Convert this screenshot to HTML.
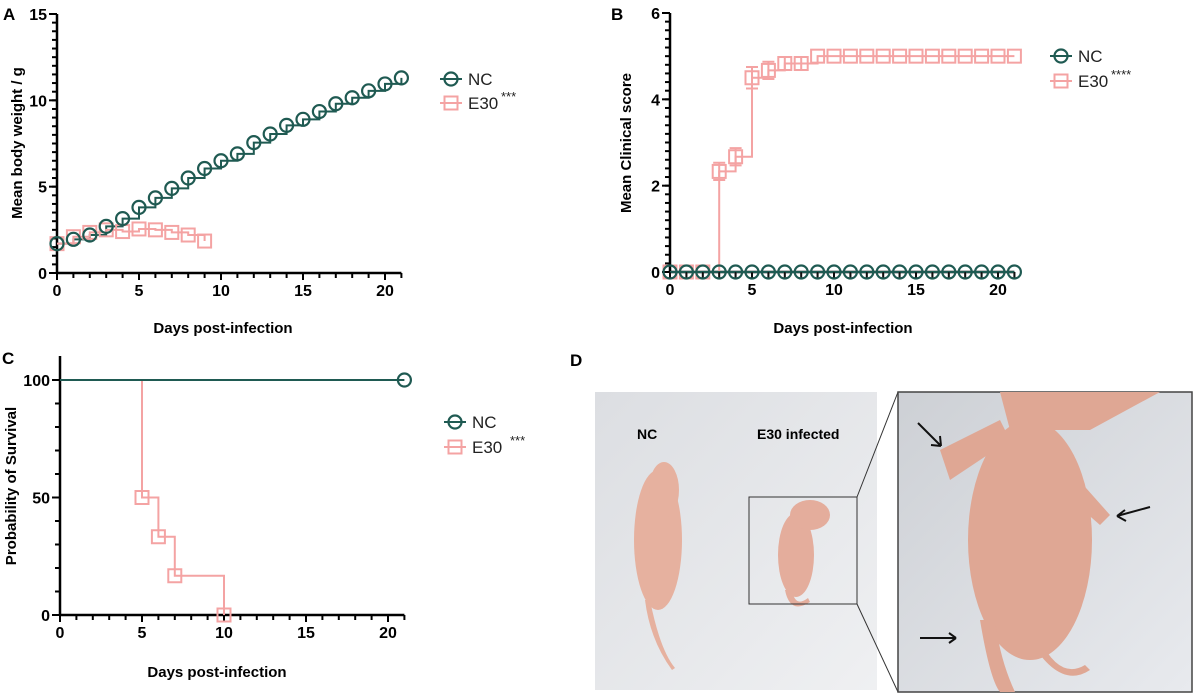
<!DOCTYPE html>
<html><head><meta charset="utf-8"><style>
body{margin:0;background:#fff;width:1200px;height:693px;overflow:hidden;font-family:"Liberation Sans",Arial,sans-serif}
svg{position:absolute;left:0;top:0}
</style></head><body>
<svg id="fig" width="1200" height="693" viewBox="0 0 1200 693">
<defs>
<linearGradient id="bg1" x1="0" y1="0" x2="1" y2="1"><stop offset="0" stop-color="#dcdee2"/><stop offset="1" stop-color="#eff0f2"/></linearGradient>
<linearGradient id="bg2" x1="0" y1="0" x2="1" y2="1"><stop offset="0" stop-color="#cdd0d5"/><stop offset="1" stop-color="#e8eaee"/></linearGradient>
</defs>
<g id="photos">
<rect x="595" y="392" width="282" height="298" fill="url(#bg1)"/>
<text x="637" y="439" font-size="14" font-weight="bold">NC</text>
<text x="757" y="439" font-size="14" font-weight="bold">E30  infected</text>
<g fill="#e6b19f">
<ellipse cx="658" cy="540" rx="24" ry="70"/>
<ellipse cx="664" cy="490" rx="15" ry="28"/>
<path d="M650 600 Q660 650 675 668 L672 670 Q650 640 645 600Z"/>
</g>
<g fill="#e4ad9c">
<ellipse cx="796" cy="555" rx="18" ry="42"/>
<ellipse cx="810" cy="515" rx="20" ry="15"/>
<path d="M785 590 Q790 615 810 602 L808 598 Q795 608 792 590Z"/>
</g>
<rect x="749" y="497" width="108" height="107" fill="none" stroke="#333" stroke-width="1"/>
<line x1="857" y1="497" x2="898" y2="392" stroke="#333" stroke-width="1"/>
<line x1="857" y1="604" x2="898" y2="692" stroke="#333" stroke-width="1"/>
<rect x="898" y="392" width="294" height="300" fill="url(#bg2)" stroke="#444" stroke-width="1.5"/>
<g fill="#dfa794">
<ellipse cx="1030" cy="540" rx="62" ry="120"/>
<path d="M940 450 L1000 420 L1010 440 L950 480Z"/>
<path d="M1070 470 L1110 515 L1100 525 L1060 490Z"/>
<path d="M980 620 Q990 680 1000 692 L1015 692 Q1000 660 995 620Z"/>
<path d="M1030 640 Q1060 690 1090 670 L1085 665 Q1060 680 1040 640Z"/>
<path d="M1000 392 L1160 392 L1090 430 L1010 430Z"/>
</g>
<g stroke="#111" stroke-width="2" fill="none">
<path d="M918 423 L941 446 M941 446 L931 445 M941 446 L940 436"/>
<path d="M1150 507 L1117 516 M1117 516 L1125 510 M1117 516 L1126 521"/>
<path d="M920 638 L956 638 M956 638 L949 633 M956 638 L949 643"/>
</g>
</g>
<text x="3" y="20" font-size="17" font-weight="bold">A</text>
<text x="611" y="20" font-size="17" font-weight="bold">B</text>
<text x="2" y="364" font-size="17" font-weight="bold">C</text>
<text x="570" y="366" font-size="17" font-weight="bold">D</text>
</svg>
<script>
const days = [0,1,2,3,4,5,6,7,8,9,10,11,12,13,14,15,16,17,18,19,20,21];
const weightNC = [1.7,1.95,2.2,2.7,3.15,3.8,4.35,4.9,5.5,6.05,6.5,6.9,7.55,8.05,8.55,8.9,9.35,9.8,10.15,10.55,10.95,11.3];
const weightE30 = [1.7,2.1,2.35,2.5,2.4,2.55,2.5,2.35,2.2,1.85];
const scoreNC = [0,0,0,0,0,0,0,0,0,0,0,0,0,0,0,0,0,0,0,0,0,0];
const scoreE30 = [0,0,0,2.33,2.67,4.5,4.67,4.83,4.83,5,5,5,5,5,5,5,5,5,5,5,5,5];
const scoreE30Err = [0,0,0,0.2,0.2,0.25,0.2,0.15,0.15,0,0,0,0,0,0,0,0,0,0,0,0,0];
const survDaysNC = [0,21];
const survNC = [100,100];
const survDaysE30 = [0,5,6,7,10];
const survE30 = [100,50,33.3,16.7,0];
const xTicks = [0,5,10,15,20];
const yTicksA = [0,5,10,15];
const yTicksB = [0,2,4,6];
const yTicksC = [0,50,100];

const NS='http://www.w3.org/2000/svg';
const svg=document.getElementById('fig');
const TEAL='#1f5a52', PINK='#f4a3a3';
function mk(tag,attrs,parent){const e=document.createElementNS(NS,tag);for(const k in attrs)e.setAttribute(k,attrs[k]);(parent||svg).appendChild(e);return e;}

function makeAxes(cfg){
  const g=mk('g',{});
  
  
  const X=v=>cfg.x0+(v-0)*cfg.dx;
  const Y=v=>cfg.y0-(v-cfg.ymin)/(cfg.ymax-cfg.ymin)*(cfg.y0-cfg.ytop);
  const ax=mk('line',{x1:cfg.x0,y1:cfg.y0,x2:X(21),y2:cfg.y0,stroke:'#000','stroke-width':2.5},g);
  
  
  const ay=mk('line',{x1:cfg.x0,y1:cfg.y0,x2:cfg.x0,y2:cfg.axTop||cfg.ytop,stroke:'#000','stroke-width':2.5},g);
  
  
  for(let d=0;d<=21;d++){const big=d%5===0;mk('line',{x1:X(d),x2:X(d),y1:cfg.y0,y2:cfg.y0+(big?7:5),stroke:'#000','stroke-width':2},g);}
  xTicks.forEach(t=>{const tx=mk('text',{x:X(t),y:cfg.y0+23,'font-size':16,'font-weight':'bold','text-anchor':'middle'},g);tx.textContent=t;
    
    });
  for(let v=cfg.ymin;v<=cfg.ymax+1e-9;v+=cfg.minor){mk('line',{x1:cfg.x0,x2:cfg.x0-5,y1:Y(v),y2:Y(v),stroke:'#000','stroke-width':2},g);}
  cfg.yt.forEach(t=>{mk('line',{x1:cfg.x0,x2:cfg.x0-8,y1:Y(t),y2:Y(t),stroke:'#000','stroke-width':2},g);
    const ty=mk('text',{x:cfg.x0-10,y:Y(t)+6,'font-size':16,'font-weight':'bold','text-anchor':'end'},g);ty.textContent=t;
    
    });
  const xt=mk('text',{x:cfg.xtx,y:cfg.xty,'font-size':15,'font-weight':'bold','text-anchor':'middle'},g);xt.textContent='Days post-infection';
  
  
  const yt=mk('text',{x:0,y:0,'font-size':15,'font-weight':'bold','text-anchor':'middle',transform:`translate(${cfg.ytx},${cfg.yty}) rotate(-90)`},g);yt.textContent=cfg.ytitle;
  
  
  return {g,X,Y};
}
function circ(g,x,y,bar){const c=mk('circle',{cx:x,cy:y,r:6.5,fill:'none',stroke:TEAL,'stroke-width':2.2},g);
  
  
  if(bar)mk('line',{x1:x-6,x2:x+6,y1:y,y2:y,stroke:TEAL,'stroke-width':2},g);}
function sq(g,x,y,bar){const r=mk('rect',{x:x-6.5,y:y-6.5,width:13,height:13,fill:'none',stroke:PINK,'stroke-width':2},g);
  
  
  if(bar)mk('line',{x1:x-6,x2:x+6,y1:y,y2:y,stroke:PINK,'stroke-width':2},g);}
function stepPath(xs,ys,X,Y){let d=`M${X(xs[0])},${Y(ys[0])}`;for(let i=1;i<xs.length;i++){d+=`H${X(xs[i])}V${Y(ys[i])}`;}return d;}
function legend(g,x,y1,y2,star){
  const l=mk('g',{},g);
  
  
  mk('line',{x1:x-11,x2:x+11,y1:y1,y2:y1,stroke:TEAL,'stroke-width':2},l);circ(l,x,y1,true);
  let t=mk('text',{x:x+17,y:y1+6,'font-size':17,fill:'#222'},l);t.textContent='NC';
  mk('line',{x1:x-11,x2:x+11,y1:y2,y2:y2,stroke:PINK,'stroke-width':2},l);sq(l,x,y2,true);
  t=mk('text',{x:x+17,y:y2+6,'font-size':17,fill:'#222'},l);t.textContent='E30';
  const s=mk('text',{x:x+17+33+(star.gap||0),y:y2-2,'font-size':13,fill:'#222'},l);s.textContent=star.s;
}

// Panel A
(function(){
  const A=makeAxes({name:'chart-a-body-weight',x0:57,y0:273,dx:16.4,ymin:0,ymax:15,ytop:14,minor:0.5,yt:yTicksA,xtx:223,xty:333,ytx:22,yty:143,ytitle:'Mean body weight / g'});
  const p1=mk('path',{d:stepPath(days,weightNC,A.X,A.Y),fill:'none',stroke:TEAL,'stroke-width':2},A.g);
  
  
  const p2=mk('path',{d:stepPath(days.slice(0,weightE30.length),weightE30,A.X,A.Y),fill:'none',stroke:PINK,'stroke-width':2},A.g);
  
  
  weightE30.forEach((v,i)=>sq(A.g,A.X(days[i]),A.Y(v)));
  weightNC.forEach((v,i)=>circ(A.g,A.X(days[i]),A.Y(v)));
  legend(A.g,451,79,103,{s:'***'});
})();
// Panel B
(function(){
  const B=makeAxes({name:'chart-b-clinical-score',x0:670,y0:272,dx:16.4,ymin:0,ymax:6,ytop:13,minor:0.2,yt:yTicksB,xtx:843,xty:333,ytx:631,yty:143,ytitle:'Mean Clinical score'});
  const p2=mk('path',{d:stepPath(days,scoreE30,B.X,B.Y),fill:'none',stroke:PINK,'stroke-width':2},B.g);
  
  
  scoreE30.forEach((v,i)=>{const e=scoreE30Err[i];if(e>0){const x=B.X(days[i]);
    mk('path',{d:`M${x},${B.Y(v+e)}V${B.Y(v-e)}M${x-6},${B.Y(v+e)}h12M${x-6},${B.Y(v-e)}h12`,stroke:PINK,'stroke-width':2,fill:'none'},B.g);}
    sq(B.g,B.X(days[i]),B.Y(v));});
  const p1=mk('path',{d:stepPath(days,scoreNC,B.X,B.Y),fill:'none',stroke:TEAL,'stroke-width':2},B.g);
  
  
  scoreNC.forEach((v,i)=>{const x=B.X(days[i]);mk('path',{d:`M${x},${B.Y(v)}v6M${x-3},${B.Y(v)+6}h6`,stroke:'#111','stroke-width':1.5},B.g);circ(B.g,x,B.Y(v));});
  legend(B.g,1061,56,81,{s:'****'});
})();
// Panel C
(function(){
  const C=makeAxes({name:'chart-c-survival',x0:60,y0:615,dx:16.4,ymin:0,ymax:100,ytop:380,axTop:356,minor:10,yt:yTicksC,xtx:217,xty:677,ytx:16,yty:486,ytitle:'Probability of Survival'});
  const p2=mk('path',{d:stepPath(survDaysE30,survE30,C.X,C.Y),fill:'none',stroke:PINK,'stroke-width':2},C.g);
  
  
  survDaysE30.forEach((d,i)=>{if(i>0)sq(C.g,C.X(d),C.Y(survE30[i]));});
  const p1=mk('path',{d:stepPath(survDaysNC,survNC,C.X,C.Y),fill:'none',stroke:TEAL,'stroke-width':2},C.g);
  
  
  circ(C.g,C.X(survDaysNC[1]),C.Y(survNC[1]));
  legend(C.g,455,422,447,{s:'***',gap:5});
})();
</script>
</body></html>
